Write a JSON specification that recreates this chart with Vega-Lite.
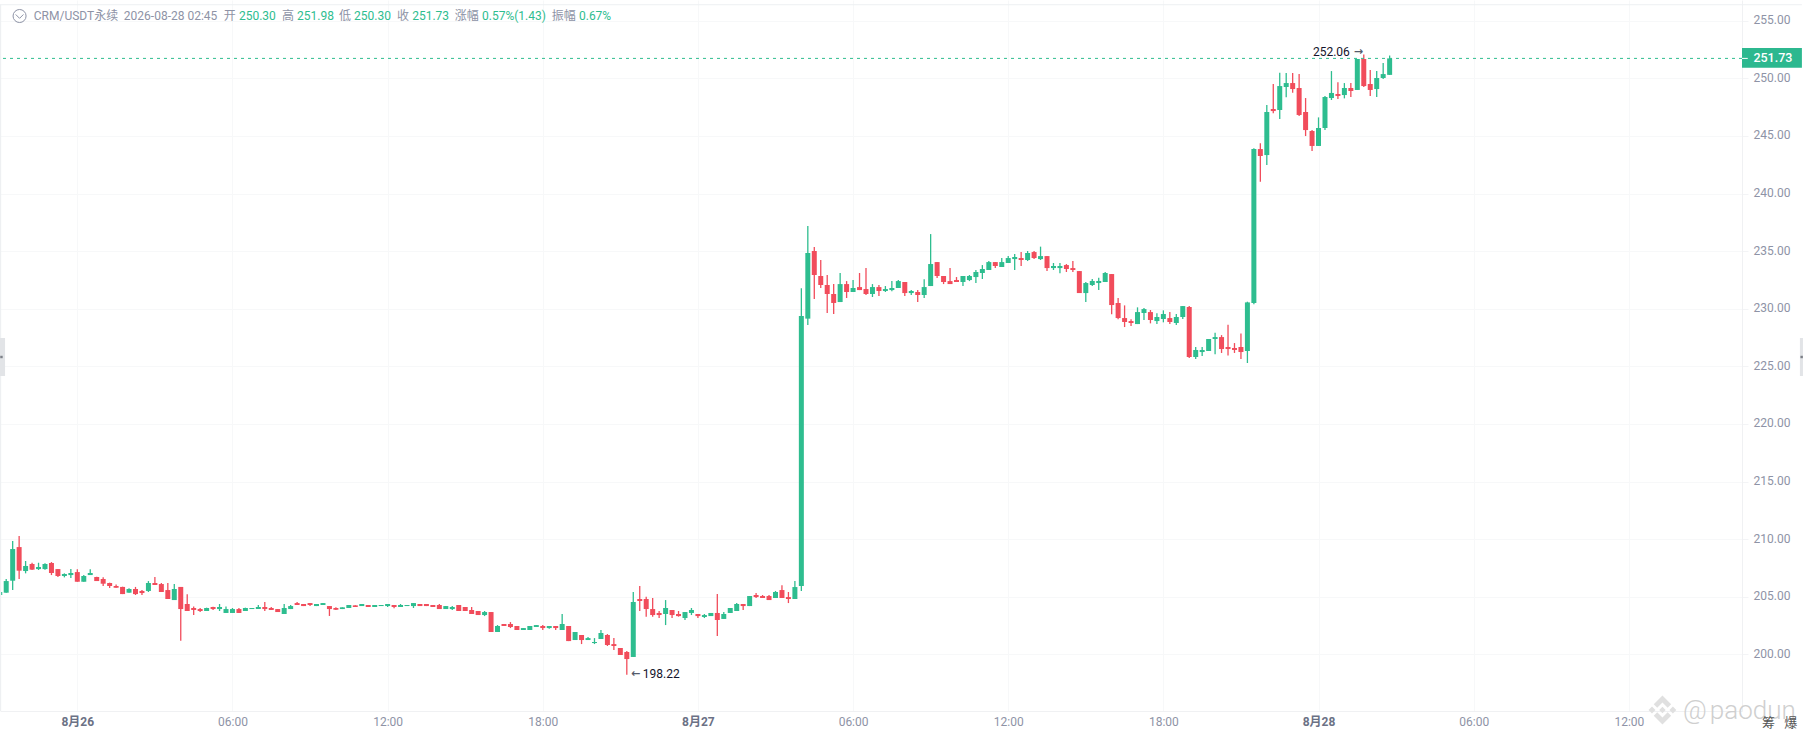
{
"$schema":"https://vega.github.io/schema/vega-lite/v6.json",
"width":1742,"height":711,
"autosize":{"type":"none"},
"padding":{"left":0,"top":0,"right":61,"bottom":25},
"background":"#ffffff",
"config":{"view":{"stroke":null},"font":"Roboto, 'Noto Sans CJK SC'"},
"data":{"values":[
{"t":"2026-08-25T21:00","o":205.15,"h":205.41,"l":205.15,"c":205.41},
{"t":"2026-08-25T21:15","o":205.35,"h":206.54,"l":205.35,"c":206.36},
{"t":"2026-08-25T21:30","o":206.39,"h":209.84,"l":205.58,"c":209.14},
{"t":"2026-08-25T21:45","o":209.31,"h":210.27,"l":206.54,"c":207.26},
{"t":"2026-08-25T22:00","o":207.23,"h":208.10,"l":207.03,"c":207.67},
{"t":"2026-08-25T22:15","o":207.84,"h":207.95,"l":207.32,"c":207.35},
{"t":"2026-08-25T22:30","o":207.40,"h":207.95,"l":207.32,"c":207.58},
{"t":"2026-08-25T22:45","o":207.40,"h":207.90,"l":207.35,"c":207.84},
{"t":"2026-08-25T23:00","o":207.93,"h":208.01,"l":206.88,"c":207.06},
{"t":"2026-08-25T23:15","o":207.40,"h":207.40,"l":206.71,"c":206.80},
{"t":"2026-08-25T23:30","o":206.80,"h":207.03,"l":206.68,"c":206.97},
{"t":"2026-08-25T23:45","o":206.88,"h":207.40,"l":206.62,"c":207.06},
{"t":"2026-08-26T00:00","o":207.14,"h":207.38,"l":206.30,"c":206.30},
{"t":"2026-08-26T00:15","o":206.30,"h":206.88,"l":206.30,"c":206.80},
{"t":"2026-08-26T00:30","o":206.88,"h":207.38,"l":206.88,"c":207.06},
{"t":"2026-08-26T00:45","o":206.71,"h":206.74,"l":206.36,"c":206.36},
{"t":"2026-08-26T01:00","o":206.54,"h":206.68,"l":205.93,"c":206.13},
{"t":"2026-08-26T01:15","o":206.19,"h":206.22,"l":205.76,"c":205.93},
{"t":"2026-08-26T01:30","o":205.93,"h":206.07,"l":205.78,"c":205.78},
{"t":"2026-08-26T01:45","o":205.85,"h":205.87,"l":205.23,"c":205.23},
{"t":"2026-08-26T02:00","o":205.35,"h":205.73,"l":205.35,"c":205.67},
{"t":"2026-08-26T02:15","o":205.67,"h":205.85,"l":205.15,"c":205.23},
{"t":"2026-08-26T02:30","o":205.50,"h":205.58,"l":205.15,"c":205.32},
{"t":"2026-08-26T02:45","o":205.50,"h":206.36,"l":205.41,"c":206.19},
{"t":"2026-08-26T03:00","o":206.19,"h":206.71,"l":206.02,"c":206.02},
{"t":"2026-08-26T03:15","o":206.10,"h":206.19,"l":205.41,"c":205.41},
{"t":"2026-08-26T03:30","o":205.58,"h":206.19,"l":204.80,"c":204.80},
{"t":"2026-08-26T03:45","o":204.71,"h":206.10,"l":204.71,"c":205.67},
{"t":"2026-08-26T04:00","o":205.85,"h":205.85,"l":201.18,"c":203.93},
{"t":"2026-08-26T04:15","o":204.37,"h":205.21,"l":203.76,"c":203.76},
{"t":"2026-08-26T04:30","o":204.02,"h":204.16,"l":203.41,"c":203.85},
{"t":"2026-08-26T04:45","o":203.93,"h":204.02,"l":203.67,"c":203.76},
{"t":"2026-08-26T05:00","o":203.76,"h":204.05,"l":203.76,"c":204.02},
{"t":"2026-08-26T05:15","o":204.11,"h":204.13,"l":203.85,"c":203.93},
{"t":"2026-08-26T05:30","o":203.93,"h":204.37,"l":203.76,"c":204.11},
{"t":"2026-08-26T05:45","o":203.59,"h":204.16,"l":203.59,"c":203.93},
{"t":"2026-08-26T06:00","o":203.59,"h":204.02,"l":203.59,"c":203.93},
{"t":"2026-08-26T06:15","o":203.93,"h":204.02,"l":203.59,"c":203.59},
{"t":"2026-08-26T06:30","o":203.76,"h":204.05,"l":203.76,"c":204.02},
{"t":"2026-08-26T06:45","o":203.93,"h":204.02,"l":203.93,"c":204.02},
{"t":"2026-08-26T07:00","o":203.93,"h":204.28,"l":203.93,"c":204.11},
{"t":"2026-08-26T07:15","o":204.11,"h":204.54,"l":203.76,"c":203.93},
{"t":"2026-08-26T07:30","o":204.02,"h":204.11,"l":203.85,"c":203.85},
{"t":"2026-08-26T07:45","o":203.93,"h":203.93,"l":203.67,"c":203.67},
{"t":"2026-08-26T08:00","o":203.50,"h":204.37,"l":203.50,"c":204.02},
{"t":"2026-08-26T08:15","o":203.93,"h":204.28,"l":203.93,"c":204.19},
{"t":"2026-08-26T08:30","o":204.45,"h":204.54,"l":204.28,"c":204.28},
{"t":"2026-08-26T08:45","o":204.37,"h":204.37,"l":204.19,"c":204.19},
{"t":"2026-08-26T09:00","o":204.45,"h":204.45,"l":204.19,"c":204.28},
{"t":"2026-08-26T09:15","o":204.19,"h":204.37,"l":204.19,"c":204.37},
{"t":"2026-08-26T09:30","o":204.28,"h":204.45,"l":204.28,"c":204.45},
{"t":"2026-08-26T09:45","o":204.19,"h":204.19,"l":203.33,"c":203.93},
{"t":"2026-08-26T10:00","o":204.02,"h":204.08,"l":203.85,"c":203.87},
{"t":"2026-08-26T10:15","o":203.93,"h":204.08,"l":203.93,"c":204.08},
{"t":"2026-08-26T10:30","o":204.02,"h":204.28,"l":204.02,"c":204.28},
{"t":"2026-08-26T10:45","o":204.25,"h":204.25,"l":204.11,"c":204.11},
{"t":"2026-08-26T11:00","o":204.19,"h":204.37,"l":204.19,"c":204.37},
{"t":"2026-08-26T11:15","o":204.28,"h":204.28,"l":204.11,"c":204.11},
{"t":"2026-08-26T11:30","o":204.11,"h":204.28,"l":204.11,"c":204.28},
{"t":"2026-08-26T11:45","o":204.19,"h":204.28,"l":204.19,"c":204.28},
{"t":"2026-08-26T12:00","o":204.19,"h":204.37,"l":204.11,"c":204.37},
{"t":"2026-08-26T12:15","o":204.28,"h":204.28,"l":203.99,"c":204.11},
{"t":"2026-08-26T12:30","o":204.11,"h":204.37,"l":204.11,"c":204.28},
{"t":"2026-08-26T12:45","o":204.19,"h":204.28,"l":204.19,"c":204.28},
{"t":"2026-08-26T13:00","o":204.19,"h":204.45,"l":204.02,"c":204.45},
{"t":"2026-08-26T13:15","o":204.37,"h":204.37,"l":204.19,"c":204.19},
{"t":"2026-08-26T13:30","o":204.37,"h":204.37,"l":204.19,"c":204.19},
{"t":"2026-08-26T13:45","o":204.28,"h":204.28,"l":204.11,"c":204.11},
{"t":"2026-08-26T14:00","o":204.28,"h":204.37,"l":203.93,"c":203.93},
{"t":"2026-08-26T14:15","o":203.93,"h":204.19,"l":203.93,"c":204.19},
{"t":"2026-08-26T14:30","o":203.93,"h":204.19,"l":203.85,"c":204.11},
{"t":"2026-08-26T14:45","o":204.28,"h":204.28,"l":203.76,"c":203.76},
{"t":"2026-08-26T15:00","o":204.11,"h":204.11,"l":203.76,"c":203.76},
{"t":"2026-08-26T15:15","o":203.85,"h":204.11,"l":203.50,"c":203.50},
{"t":"2026-08-26T15:30","o":203.76,"h":203.76,"l":203.41,"c":203.41},
{"t":"2026-08-26T15:45","o":203.41,"h":203.76,"l":203.32,"c":203.67},
{"t":"2026-08-26T16:00","o":203.67,"h":203.67,"l":201.94,"c":201.94},
{"t":"2026-08-26T16:15","o":201.94,"h":202.54,"l":201.94,"c":202.46},
{"t":"2026-08-26T16:30","o":202.63,"h":202.63,"l":202.46,"c":202.46},
{"t":"2026-08-26T16:45","o":202.63,"h":202.80,"l":202.28,"c":202.37},
{"t":"2026-08-26T17:00","o":202.46,"h":202.46,"l":202.11,"c":202.11},
{"t":"2026-08-26T17:15","o":202.11,"h":202.28,"l":202.11,"c":202.28},
{"t":"2026-08-26T17:30","o":202.11,"h":202.46,"l":202.11,"c":202.46},
{"t":"2026-08-26T17:45","o":202.37,"h":202.54,"l":202.37,"c":202.54},
{"t":"2026-08-26T18:00","o":202.46,"h":202.54,"l":202.11,"c":202.28},
{"t":"2026-08-26T18:15","o":202.28,"h":202.46,"l":202.22,"c":202.46},
{"t":"2026-08-26T18:30","o":202.46,"h":202.46,"l":202.11,"c":202.28},
{"t":"2026-08-26T18:45","o":202.11,"h":203.50,"l":202.11,"c":202.63},
{"t":"2026-08-26T19:00","o":202.46,"h":202.46,"l":201.15,"c":201.15},
{"t":"2026-08-26T19:15","o":201.24,"h":201.94,"l":201.24,"c":201.94},
{"t":"2026-08-26T19:30","o":201.68,"h":201.68,"l":200.89,"c":201.24},
{"t":"2026-08-26T19:45","o":201.24,"h":201.50,"l":201.24,"c":201.41},
{"t":"2026-08-26T20:00","o":200.98,"h":201.41,"l":200.89,"c":201.07},
{"t":"2026-08-26T20:15","o":201.33,"h":202.11,"l":201.33,"c":201.85},
{"t":"2026-08-26T20:30","o":201.68,"h":201.76,"l":200.72,"c":200.81},
{"t":"2026-08-26T20:45","o":200.89,"h":201.41,"l":200.37,"c":200.72},
{"t":"2026-08-26T21:00","o":200.55,"h":200.55,"l":199.94,"c":199.94},
{"t":"2026-08-26T21:15","o":200.20,"h":200.29,"l":198.22,"c":199.59},
{"t":"2026-08-26T21:30","o":199.77,"h":205.41,"l":199.77,"c":204.54},
{"t":"2026-08-26T21:45","o":204.80,"h":205.93,"l":203.76,"c":204.63},
{"t":"2026-08-26T22:00","o":204.80,"h":205.00,"l":203.27,"c":203.93},
{"t":"2026-08-26T22:15","o":203.93,"h":204.89,"l":203.27,"c":203.41},
{"t":"2026-08-26T22:30","o":203.59,"h":203.76,"l":203.15,"c":203.41},
{"t":"2026-08-26T22:45","o":203.50,"h":204.71,"l":202.54,"c":204.02},
{"t":"2026-08-26T23:00","o":203.85,"h":203.85,"l":203.15,"c":203.41},
{"t":"2026-08-26T23:15","o":203.50,"h":203.76,"l":203.27,"c":203.32},
{"t":"2026-08-26T23:30","o":203.15,"h":203.67,"l":202.98,"c":203.67},
{"t":"2026-08-26T23:45","o":203.59,"h":204.02,"l":203.41,"c":203.85},
{"t":"2026-08-27T00:00","o":203.50,"h":203.50,"l":203.15,"c":203.32},
{"t":"2026-08-27T00:15","o":203.24,"h":203.50,"l":203.15,"c":203.41},
{"t":"2026-08-27T00:30","o":203.32,"h":203.59,"l":203.32,"c":203.59},
{"t":"2026-08-27T00:45","o":203.59,"h":205.23,"l":201.59,"c":202.98},
{"t":"2026-08-27T01:00","o":203.07,"h":203.67,"l":203.07,"c":203.50},
{"t":"2026-08-27T01:15","o":203.59,"h":204.02,"l":203.59,"c":204.02},
{"t":"2026-08-27T01:30","o":203.76,"h":204.45,"l":203.76,"c":204.37},
{"t":"2026-08-27T01:45","o":204.37,"h":204.37,"l":203.85,"c":204.19},
{"t":"2026-08-27T02:00","o":204.19,"h":205.06,"l":204.19,"c":205.06},
{"t":"2026-08-27T02:15","o":205.15,"h":205.32,"l":204.89,"c":204.97},
{"t":"2026-08-27T02:30","o":205.06,"h":205.15,"l":204.89,"c":204.89},
{"t":"2026-08-27T02:45","o":205.06,"h":205.15,"l":204.71,"c":204.71},
{"t":"2026-08-27T03:00","o":204.89,"h":205.50,"l":204.89,"c":205.41},
{"t":"2026-08-27T03:15","o":205.58,"h":205.99,"l":204.89,"c":204.89},
{"t":"2026-08-27T03:30","o":204.97,"h":205.41,"l":204.45,"c":204.80},
{"t":"2026-08-27T03:45","o":204.80,"h":206.36,"l":204.80,"c":205.84},
{"t":"2026-08-27T04:00","o":205.93,"h":231.77,"l":205.50,"c":229.37},
{"t":"2026-08-27T04:15","o":229.14,"h":237.18,"l":228.59,"c":234.84},
{"t":"2026-08-27T04:30","o":235.01,"h":235.36,"l":230.84,"c":232.93},
{"t":"2026-08-27T04:45","o":232.84,"h":234.23,"l":231.80,"c":232.06},
{"t":"2026-08-27T05:00","o":232.06,"h":232.93,"l":229.63,"c":231.28},
{"t":"2026-08-27T05:15","o":231.28,"h":232.14,"l":229.54,"c":230.50},
{"t":"2026-08-27T05:30","o":230.58,"h":233.10,"l":230.58,"c":232.14},
{"t":"2026-08-27T05:45","o":232.14,"h":232.40,"l":230.93,"c":231.45},
{"t":"2026-08-27T06:00","o":231.45,"h":232.49,"l":231.45,"c":231.80},
{"t":"2026-08-27T06:15","o":231.88,"h":233.10,"l":231.62,"c":231.62},
{"t":"2026-08-27T06:30","o":231.71,"h":233.53,"l":231.19,"c":231.28},
{"t":"2026-08-27T06:45","o":231.28,"h":232.14,"l":231.02,"c":231.88},
{"t":"2026-08-27T07:00","o":231.88,"h":232.06,"l":231.10,"c":231.54},
{"t":"2026-08-27T07:15","o":231.54,"h":231.97,"l":231.45,"c":231.71},
{"t":"2026-08-27T07:30","o":231.62,"h":232.40,"l":231.51,"c":231.80},
{"t":"2026-08-27T07:45","o":231.80,"h":232.49,"l":231.80,"c":232.40},
{"t":"2026-08-27T08:00","o":232.32,"h":232.32,"l":231.10,"c":231.36},
{"t":"2026-08-27T08:15","o":231.36,"h":231.62,"l":231.19,"c":231.54},
{"t":"2026-08-27T08:30","o":231.45,"h":231.62,"l":230.58,"c":231.19},
{"t":"2026-08-27T08:45","o":231.19,"h":232.55,"l":230.93,"c":231.88},
{"t":"2026-08-27T09:00","o":231.97,"h":236.48,"l":231.97,"c":233.88},
{"t":"2026-08-27T09:15","o":234.05,"h":234.05,"l":232.67,"c":232.84},
{"t":"2026-08-27T09:30","o":232.84,"h":232.84,"l":232.14,"c":232.32},
{"t":"2026-08-27T09:45","o":232.40,"h":233.53,"l":232.14,"c":232.14},
{"t":"2026-08-27T10:00","o":232.49,"h":232.75,"l":232.32,"c":232.32},
{"t":"2026-08-27T10:15","o":232.32,"h":232.84,"l":231.97,"c":232.84},
{"t":"2026-08-27T10:30","o":232.49,"h":232.93,"l":232.40,"c":232.84},
{"t":"2026-08-27T10:45","o":232.75,"h":233.36,"l":232.23,"c":233.19},
{"t":"2026-08-27T11:00","o":233.10,"h":233.79,"l":232.58,"c":233.45},
{"t":"2026-08-27T11:15","o":233.36,"h":234.14,"l":233.36,"c":234.05},
{"t":"2026-08-27T11:30","o":234.05,"h":234.05,"l":233.53,"c":233.71},
{"t":"2026-08-27T11:45","o":233.62,"h":234.40,"l":233.62,"c":234.05},
{"t":"2026-08-27T12:00","o":233.97,"h":234.57,"l":233.97,"c":234.40},
{"t":"2026-08-27T12:15","o":234.31,"h":234.75,"l":233.36,"c":234.49},
{"t":"2026-08-27T12:30","o":234.40,"h":234.92,"l":233.71,"c":234.23},
{"t":"2026-08-27T12:45","o":234.23,"h":235.01,"l":234.14,"c":234.84},
{"t":"2026-08-27T13:00","o":234.92,"h":235.01,"l":234.31,"c":234.40},
{"t":"2026-08-27T13:15","o":234.31,"h":235.39,"l":234.23,"c":234.57},
{"t":"2026-08-27T13:30","o":234.57,"h":234.57,"l":233.27,"c":233.53},
{"t":"2026-08-27T13:45","o":233.53,"h":233.97,"l":233.36,"c":233.71},
{"t":"2026-08-27T14:00","o":233.53,"h":233.97,"l":233.07,"c":233.71},
{"t":"2026-08-27T14:15","o":233.79,"h":233.88,"l":233.19,"c":233.45},
{"t":"2026-08-27T14:30","o":233.53,"h":234.14,"l":233.19,"c":233.36},
{"t":"2026-08-27T14:45","o":233.27,"h":233.27,"l":231.36,"c":231.36},
{"t":"2026-08-27T15:00","o":231.36,"h":232.32,"l":230.58,"c":232.23},
{"t":"2026-08-27T15:15","o":232.06,"h":232.58,"l":231.97,"c":232.41},
{"t":"2026-08-27T15:30","o":232.23,"h":232.69,"l":231.62,"c":232.41},
{"t":"2026-08-27T15:45","o":232.32,"h":233.19,"l":232.32,"c":233.10},
{"t":"2026-08-27T16:00","o":233.01,"h":233.01,"l":229.51,"c":230.32},
{"t":"2026-08-27T16:15","o":230.50,"h":230.93,"l":229.08,"c":229.19},
{"t":"2026-08-27T16:30","o":229.19,"h":230.29,"l":228.41,"c":228.85},
{"t":"2026-08-27T16:45","o":228.93,"h":229.08,"l":228.50,"c":228.76},
{"t":"2026-08-27T17:00","o":228.67,"h":230.12,"l":228.67,"c":229.71},
{"t":"2026-08-27T17:15","o":229.63,"h":230.06,"l":229.02,"c":229.97},
{"t":"2026-08-27T17:30","o":229.71,"h":229.89,"l":228.73,"c":229.02},
{"t":"2026-08-27T17:45","o":228.93,"h":229.60,"l":228.67,"c":229.28},
{"t":"2026-08-27T18:00","o":229.11,"h":229.86,"l":228.82,"c":229.54},
{"t":"2026-08-27T18:15","o":229.19,"h":229.71,"l":228.67,"c":228.85},
{"t":"2026-08-27T18:30","o":228.76,"h":229.54,"l":228.59,"c":229.28},
{"t":"2026-08-27T18:45","o":229.28,"h":230.23,"l":229.11,"c":230.23},
{"t":"2026-08-27T19:00","o":230.15,"h":230.23,"l":225.72,"c":225.81},
{"t":"2026-08-27T19:15","o":225.81,"h":226.68,"l":225.63,"c":226.42},
{"t":"2026-08-27T19:30","o":226.24,"h":226.68,"l":225.89,"c":226.42},
{"t":"2026-08-27T19:45","o":226.33,"h":227.37,"l":226.33,"c":227.37},
{"t":"2026-08-27T20:00","o":227.37,"h":227.92,"l":226.04,"c":227.54},
{"t":"2026-08-27T20:15","o":227.54,"h":227.71,"l":226.16,"c":226.50},
{"t":"2026-08-27T20:30","o":226.68,"h":228.61,"l":225.95,"c":226.50},
{"t":"2026-08-27T20:45","o":226.59,"h":227.02,"l":226.16,"c":226.42},
{"t":"2026-08-27T21:00","o":226.68,"h":227.86,"l":225.63,"c":226.24},
{"t":"2026-08-27T21:15","o":226.33,"h":230.61,"l":225.29,"c":230.55},
{"t":"2026-08-27T21:30","o":230.50,"h":243.92,"l":230.38,"c":243.86},
{"t":"2026-08-27T21:45","o":243.86,"h":244.36,"l":241.03,"c":243.26},
{"t":"2026-08-27T22:00","o":243.34,"h":247.68,"l":242.48,"c":247.08},
{"t":"2026-08-27T22:15","o":247.34,"h":249.51,"l":246.96,"c":247.16},
{"t":"2026-08-27T22:30","o":247.25,"h":250.49,"l":246.47,"c":249.33},
{"t":"2026-08-27T22:45","o":249.25,"h":250.46,"l":248.35,"c":249.59},
{"t":"2026-08-27T23:00","o":249.59,"h":250.46,"l":248.75,"c":249.07},
{"t":"2026-08-27T23:15","o":249.16,"h":250.37,"l":246.73,"c":246.82},
{"t":"2026-08-27T23:30","o":247.08,"h":248.29,"l":244.99,"c":245.51},
{"t":"2026-08-27T23:45","o":245.43,"h":245.51,"l":243.69,"c":244.13},
{"t":"2026-08-28T00:00","o":244.13,"h":246.61,"l":244.13,"c":245.69},
{"t":"2026-08-28T00:15","o":245.69,"h":248.47,"l":245.51,"c":248.38},
{"t":"2026-08-28T00:30","o":248.29,"h":250.63,"l":248.12,"c":248.73},
{"t":"2026-08-28T00:45","o":248.64,"h":249.65,"l":248.20,"c":248.47},
{"t":"2026-08-28T01:00","o":248.55,"h":249.59,"l":248.26,"c":249.16},
{"t":"2026-08-28T01:15","o":249.16,"h":249.59,"l":248.38,"c":248.90},
{"t":"2026-08-28T01:30","o":248.99,"h":251.68,"l":248.99,"c":251.68},
{"t":"2026-08-28T01:45","o":251.68,"h":252.06,"l":249.25,"c":249.33},
{"t":"2026-08-28T02:00","o":249.51,"h":250.72,"l":248.47,"c":248.99},
{"t":"2026-08-28T02:15","o":249.07,"h":250.63,"l":248.38,"c":250.03},
{"t":"2026-08-28T02:30","o":250.03,"h":251.33,"l":249.94,"c":250.37},
{"t":"2026-08-28T02:45","o":250.30,"h":251.98,"l":250.30,"c":251.73}
]},
"layer":[
{"mark":{"type":"rule","strokeWidth":1.3},
 "encoding":{
  "x":{"field":"t","type":"temporal","title":null,
   "scale":{"domain":["2026-08-25T21:00:36","2026-08-28T16:22:36"],"padding":0},
   "axis":{"orient":"bottom","grid":true,"gridColor":"#f7f8f9","gridWidth":1,"ticks":false,"domainColor":"#f0f1f3","labelPadding":5,"labelFontSize":12,"labelFont":"Roboto, 'Noto Sans CJK SC'","labelFlush":false,"labelOverlap":false,
    "values":["2026-08-26T00:00:00","2026-08-26T06:00:00","2026-08-26T12:00:00","2026-08-26T18:00:00","2026-08-27T00:00:00","2026-08-27T06:00:00","2026-08-27T12:00:00","2026-08-27T18:00:00","2026-08-28T00:00:00","2026-08-28T06:00:00","2026-08-28T12:00:00"],
    "labelExpr":"hours(datum.value)==0 ? (month(datum.value)+1)+'月'+date(datum.value) : timeFormat(datum.value,'%H:%M')",
    "labelFontWeight":{"condition":{"test":"hours(datum.value)==0","value":"bold"},"value":"normal"},
    "labelColor":{"condition":{"test":"hours(datum.value)==0","value":"#6b7185"},"value":"#8e93a6"}}},
  "y":{"field":"l","type":"quantitative","title":null,
   "scale":{"domain":[195.08,256.80],"zero":false,"nice":false},
   "axis":{"orient":"right","grid":true,"gridColor":"#f7f8f9","gridWidth":1,"tickColor":"#f3f4f6","tickSize":6,"domainColor":"#f0f1f3","labelPadding":5,"labelOffset":-1,"labelFontSize":12,"labelColor":"#8e93a6","format":".2f","labelFont":"Roboto","values":[200,205,210,215,220,225,230,235,240,245,250,255]}},
  "y2":{"field":"h"},
  "color":{"condition":{"test":"datum.c>=datum.o","value":"#2ebd8f"},"value":"#f14c5b"}}},
{"mark":{"type":"bar","size":5},
 "encoding":{
  "x":{"field":"t","type":"temporal","title":null},
  "y":{"field":"o","type":"quantitative","title":null},
  "y2":{"field":"c"},
  "color":{"condition":{"test":"datum.c>=datum.o","value":"#2ebd8f"},"value":"#f14c5b"}}},
{"data":{"values":[{"p":251.73}]},"mark":{"type":"rule","stroke":"#2ebd8f","strokeDash":[3,4],"strokeWidth":1},
 "encoding":{"y":{"field":"p","type":"quantitative","title":null}}},
{"data":{"values":[{"a":"2026-08-25T21:00:36","b":"2026-08-28T18:41:36","p":256.39}]},"mark":{"type":"rule","stroke":"#eef0f2","strokeWidth":1},
 "encoding":{"x":{"field":"a","type":"temporal","title":null},"x2":{"field":"b"},"y":{"field":"p","type":"quantitative","title":null}}},
{"data":{"values":[{"a":"2026-08-25T21:01:00","p0":256.39,"p1":195.08}]},"mark":{"type":"rule","stroke":"#eef0f2","strokeWidth":2},
 "encoding":{"x":{"field":"a","type":"temporal","title":null},"y":{"field":"p0","type":"quantitative","title":null},"y2":{"field":"p1"}}},
{"data":{"values":[{"a":"2026-08-25T21:00:36","b":"2026-08-25T21:12:18","p0":227.46,"p1":224.16},{"a":"2026-08-28T18:37:00","b":"2026-08-28T18:44:00","p0":227.46,"p1":224.16}]},"mark":{"type":"rect","color":"#e2e4e7"},
 "encoding":{"x":{"field":"a","type":"temporal","title":null},"x2":{"field":"b"},"y":{"field":"p0","type":"quantitative","title":null},"y2":{"field":"p1"}}},
{"data":{"values":[{"a":"2026-08-25T21:04:00","p":225.81},{"a":"2026-08-28T18:41:00","p":225.81}]},"mark":{"type":"point","shape":"square","size":6,"filled":true,"color":"#7d8088","opacity":1},
 "encoding":{"x":{"field":"a","type":"temporal","title":null},"y":{"field":"p","type":"quantitative","title":null}}},
{"data":{"values":[{"a":"2026-08-28T16:22:36","b":"2026-08-28T18:41:36","p0":252.63,"p1":250.92}]},"mark":{"type":"rect","color":"#2cb88f"},
 "encoding":{"x":{"field":"a","type":"temporal","title":null},"x2":{"field":"b"},"y":{"field":"p0","type":"quantitative","title":null},"y2":{"field":"p1"}}},
{"data":{"values":[{"a":"2026-08-28T16:22:36","b":"2026-08-28T16:36:00","p":251.73}]},"mark":{"type":"rule","stroke":"#ffffff","strokeWidth":1},
 "encoding":{"x":{"field":"a","type":"temporal","title":null},"x2":{"field":"b"},"y":{"field":"p","type":"quantitative","title":null}}},
{"data":{"values":[{"x":"2026-08-28T16:49:00","p":251.73,"s":"251.73"}]},"mark":{"type":"text","align":"left","baseline":"middle","fontSize":12.5,"fontWeight":500,"color":"#ffffff","font":"Roboto"},
 "encoding":{"x":{"field":"x","type":"temporal","title":null},"y":{"field":"p","type":"quantitative","title":null},"text":{"field":"s"}}},
{"data":{"values":[
 {"x":"2026-08-25T22:19:00","p":255.41,"s":"CRM/USDT永续"},
 {"x":"2026-08-26T01:48:00","p":255.41,"s":"2026-08-28 02:45"},
 {"x":"2026-08-26T05:40:00","p":255.41,"s":"开"},
 {"x":"2026-08-26T07:55:00","p":255.41,"s":"高"},
 {"x":"2026-08-26T10:07:00","p":255.41,"s":"低"},
 {"x":"2026-08-26T12:22:00","p":255.41,"s":"收"},
 {"x":"2026-08-26T14:36:00","p":255.41,"s":"涨幅"},
 {"x":"2026-08-26T18:21:00","p":255.41,"s":"振幅"}]},
 "mark":{"type":"text","align":"left","baseline":"middle","fontSize":12,"color":"#8e93a6","font":"Roboto, 'Noto Sans CJK SC'"},
 "encoding":{"x":{"field":"x","type":"temporal","title":null},"y":{"field":"p","type":"quantitative","title":null},"text":{"field":"s"}}},
{"data":{"values":[
 {"x":"2026-08-26T06:15:00","p":255.41,"s":"250.30"},
 {"x":"2026-08-26T08:30:00","p":255.41,"s":"251.98"},
 {"x":"2026-08-26T10:42:00","p":255.41,"s":"250.30"},
 {"x":"2026-08-26T12:57:00","p":255.41,"s":"251.73"},
 {"x":"2026-08-26T15:39:00","p":255.41,"s":"0.57%(1.43)"},
 {"x":"2026-08-26T19:24:00","p":255.41,"s":"0.67%"}]},
 "mark":{"type":"text","align":"left","baseline":"middle","fontSize":12,"color":"#2ebd8f","font":"Roboto"},
 "encoding":{"x":{"field":"x","type":"temporal","title":null},"y":{"field":"p","type":"quantitative","title":null},"text":{"field":"s"}}},
{"data":{"values":[{"x":"2026-08-25T21:46:00","p":255.41}]},
 "mark":{"type":"point","shape":"circle","size":170,"filled":false,"stroke":"#8e93a6","strokeWidth":1,"opacity":1},
 "encoding":{"x":{"field":"x","type":"temporal","title":null},"y":{"field":"p","type":"quantitative","title":null}}},
{"data":{"values":[{"x":"2026-08-25T21:46:00","p":255.41}]},
 "mark":{"type":"point","shape":"M-0.5,-0.2L0,0.3L0.5,-0.2","size":240,"filled":false,"stroke":"#8e93a6","strokeWidth":1,"opacity":1},
 "encoding":{"x":{"field":"x","type":"temporal","title":null},"y":{"field":"p","type":"quantitative","title":null}}},
{"data":{"values":[{"x":"2026-08-26T21:25:00","p":198.31,"s":"←"},{"x":"2026-08-28T01:22:00","p":252.3,"s":"→"}]},
 "mark":{"type":"text","align":"left","baseline":"middle","fontSize":11,"fontWeight":"bold","color":"#555b6b","font":"DejaVu Sans"},
 "encoding":{"x":{"field":"x","type":"temporal","title":null},"y":{"field":"p","type":"quantitative","title":null},"text":{"field":"s"}}},
{"data":{"values":[{"x":"2026-08-26T21:52:00","p":198.31,"s":"198.22"},{"x":"2026-08-27T23:47:00","p":252.3,"s":"252.06"}]},
 "mark":{"type":"text","align":"left","baseline":"middle","fontSize":12,"color":"#14142b","font":"Roboto"},
 "encoding":{"x":{"field":"x","type":"temporal","title":null},"y":{"field":"p","type":"quantitative","title":null},"text":{"field":"s"}}},
{"data":{"values":[{"x":"2026-08-28T13:18:00","p":195.17}]},
 "mark":{"type":"point","shape":"M0,-0.22L0.22,0L0,0.22L-0.22,0ZM-0.96,0L-0.72,-0.24L-0.48,0L-0.72,0.24ZM0.96,0L0.72,-0.24L0.48,0L0.72,0.24ZM0,-1L0.6,-0.4L0.36,-0.16L0,-0.52L-0.36,-0.16L-0.6,-0.4ZM0,1L0.6,0.4L0.36,0.16L0,0.52L-0.36,0.16L-0.6,0.4Z","size":841,"filled":true,"color":"#e0e0e0","opacity":1},
 "encoding":{"x":{"field":"x","type":"temporal","title":null},"y":{"field":"p","type":"quantitative","title":null}}},
{"data":{"values":[{"x":"2026-08-28T14:05:30","p":195.1,"s":"@"},{"x":"2026-08-28T15:08:00","p":195.1,"s":"paodun"}]},
 "mark":{"type":"text","align":"left","baseline":"middle","fontSize":26,"fontWeight":300,"color":"#cfcfcf","font":"Roboto"},
 "encoding":{"x":{"field":"x","type":"temporal","title":null},"y":{"field":"p","type":"quantitative","title":null},"text":{"field":"s"}}},
{"data":{"values":[{"x":"2026-08-28T17:24:00","p":194.04,"s":"筹"},{"x":"2026-08-28T18:16:00","p":194.04,"s":"爆"}]},
 "mark":{"type":"text","align":"center","baseline":"middle","fontSize":13,"color":"#555555","font":"Noto Sans CJK SC"},
 "encoding":{"x":{"field":"x","type":"temporal","title":null},"y":{"field":"p","type":"quantitative","title":null},"text":{"field":"s"}}}
]
}
